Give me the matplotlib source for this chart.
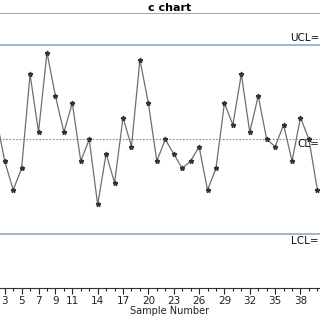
import numpy as np
import matplotlib
matplotlib.use("Agg")
import matplotlib.pyplot as plt

# counts per sample (samples 1-2 lie mostly outside the crop)
samples = np.arange(1, 41)
counts = [20, 22, 16, 12, 15, 28, 20, 31, 25, 20,
          24, 16, 19, 10, 17, 13, 22, 18, 30, 24,
          16, 19, 17, 15, 16, 18, 12, 15, 24, 21,
          28, 20, 25, 19, 18, 21, 16, 22, 19, 12]
tick_labels = [3, 5, 7, 9, 11, 14, 17, 20, 23, 26, 29, 32, 35, 38]

cl = 19.0
ucl = cl + 3 * np.sqrt(cl)
lcl = cl - 3 * np.sqrt(cl)

fig = plt.figure(figsize=(3.2, 3.2), dpi=100)
# axes is wider than the figure: the reference is a crop of a bigger chart
ax = fig.add_axes([-0.0645, 0.1, 1.191, 0.858])

limit_col = '#a3b6cc'
ax.axhline(ucl, color=limit_col, lw=1.4)
ax.axhline(lcl, color=limit_col, lw=1.4)
ax.axhline(cl, color='#888888', lw=0.8, ls=(0, (1.5, 1.5)))

ax.plot(samples, counts, color='#6e6e6e', lw=0.9,
        marker='*', ms=3.5, mfc='#333333', mec='#333333')

# labels run to the right edge, as in the cropped reference
ax.text(40.2, ucl + 0.25, 'UCL=', fontsize=7.5, ha='right', va='bottom', color='#111111')
ax.text(40.2, cl + 0.05, 'CL=', fontsize=7.5, ha='right', va='top', color='#111111')
ax.text(40.2, lcl - 0.3, 'LCL=', fontsize=7.5, ha='right', va='top', color='#111111')

ax.set_xlim(0, 45.1)
ax.set_ylim(-1.54, 36.4)
ax.set_xticks(tick_labels)
ax.set_xticks(samples, minor=True)
ax.set_yticks([])
ax.tick_params(axis='x', which='major', length=4, width=0.8, labelsize=7.5, pad=1.5, colors='#222222')
ax.tick_params(axis='x', which='minor', length=2.5, width=0.8, colors='#222222')

ax.spines['top'].set_color('#aaaaaa')
ax.spines['bottom'].set_color('#333333')
ax.spines['left'].set_visible(False)
ax.spines['right'].set_visible(False)

ax.set_title('c chart', fontsize=8, fontweight='bold', pad=2)
ax.set_xlabel('Sample Number', fontsize=7, labelpad=0.5, color='#222222')

fig.savefig('out.png', dpi=100)
